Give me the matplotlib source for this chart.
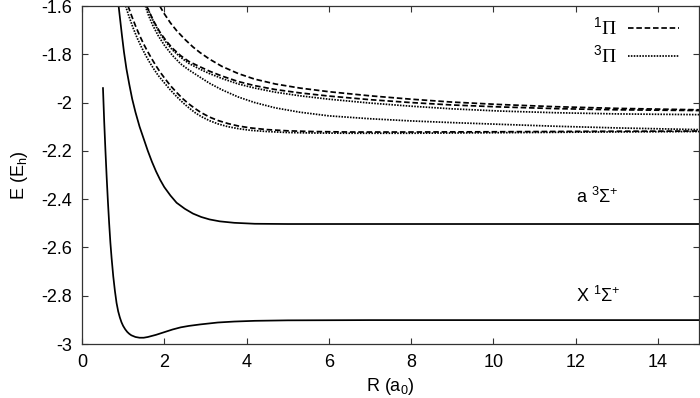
import matplotlib
matplotlib.use('Agg')
import matplotlib.pyplot as plt
from matplotlib.ticker import FuncFormatter

plt.rcParams['font.family'] = ['Liberation Sans', 'DejaVu Sans']
plt.rcParams['axes.unicode_minus'] = False
plt.rcParams['mathtext.fontset'] = 'custom'
plt.rcParams['mathtext.rm'] = 'Liberation Sans'
plt.rcParams['mathtext.it'] = 'Liberation Sans'
plt.rcParams['mathtext.sf'] = 'Liberation Sans'

# X 1Sigma+ ground state
x_R = [0.51, 0.54, 0.57, 0.60, 0.63, 0.66, 0.69, 0.72, 0.76, 0.80, 0.84, 0.88, 0.92, 0.96,
       1.00, 1.05, 1.10, 1.15, 1.20, 1.30, 1.40, 1.50, 1.60, 1.80, 2.00, 2.20, 2.40, 2.60,
       2.87, 3.30, 3.70, 4.20, 5.00, 7.00, 10.0, 15.0]
x_E = [-1.94, -2.08, -2.20, -2.31, -2.41, -2.50, -2.58, -2.645, -2.72, -2.78, -2.83, -2.865,
       -2.89, -2.91, -2.925, -2.939, -2.950, -2.958, -2.964, -2.971, -2.974, -2.974, -2.971,
       -2.962, -2.951, -2.940, -2.931, -2.925, -2.919, -2.911, -2.907, -2.904, -2.902, -2.901,
       -2.901, -2.901]

# a 3Sigma+ state
a_R = [0.89, 0.93, 0.97, 1.02, 1.08, 1.15, 1.22, 1.30, 1.40, 1.50, 1.60, 1.70, 1.80, 1.90,
       2.00, 2.15, 2.30, 2.50, 2.70, 2.90, 3.10, 3.35, 3.70, 4.20, 5.00, 7.00, 10.0, 15.0]
a_E = [-1.60, -1.66, -1.72, -1.79, -1.86, -1.925, -1.985, -2.04, -2.10, -2.15, -2.20, -2.245,
       -2.285, -2.32, -2.35, -2.385, -2.415, -2.44, -2.46, -2.474, -2.484, -2.492, -2.498,
       -2.502, -2.503, -2.503, -2.503, -2.503]

# 1Pi states (dashed)
d1_R = [1.89, 2.0, 2.15, 2.3, 2.5, 2.7, 2.87, 3.1, 3.4, 3.8, 4.2, 4.7, 5.3, 6.0, 7.0, 8.0,
        9.0, 10.15, 11.5, 13.0, 15.0]
d1_E = [-1.60, -1.632, -1.67, -1.702, -1.738, -1.77, -1.793, -1.82, -1.85, -1.88, -1.903,
        -1.923, -1.94, -1.955, -1.972, -1.986, -1.998, -2.008, -2.017, -2.024, -2.030]
d2_R = [1.57, 1.65, 1.75, 1.9, 2.05, 2.2, 2.4, 2.6, 2.87, 3.1, 3.4, 3.8, 4.2, 4.7, 5.3, 6.0,
        7.0, 8.0, 9.0, 10.15, 11.5, 13.0, 15.0]
d2_E = [-1.60, -1.63, -1.665, -1.71, -1.745, -1.775, -1.806, -1.83, -1.852, -1.87, -1.89,
        -1.913, -1.93, -1.946, -1.960, -1.973, -1.988, -2.000, -2.010, -2.018, -2.025, -2.03,
        -2.033]
d4_R = [1.12, 1.2, 1.3, 1.4, 1.5, 1.6, 1.7, 1.8, 1.9, 2.0, 2.15, 2.3, 2.45, 2.6, 2.75, 2.9,
        3.1, 3.3, 3.55, 3.8, 4.1, 4.5, 5.0, 5.6, 6.5, 8.0, 10.0, 12.5, 15.0]
d4_E = [-1.60, -1.638, -1.682, -1.722, -1.758, -1.79, -1.82, -1.848, -1.874, -1.897, -1.93,
        -1.958, -1.984, -2.006, -2.025, -2.042, -2.06, -2.074, -2.087, -2.097, -2.105, -2.112,
        -2.117, -2.12, -2.122, -2.122, -2.121, -2.119, -2.118]

# 3Pi states (dotted)
t2_R = [1.58, 1.66, 1.76, 1.9, 2.05, 2.2, 2.4, 2.6, 2.87, 3.1, 3.4, 3.8, 4.2, 4.7, 5.3, 6.0,
        7.0, 8.0, 9.0, 10.15, 11.5, 13.0, 15.0]
t2_E = [-1.60, -1.635, -1.672, -1.715, -1.752, -1.782, -1.813, -1.838, -1.862, -1.88, -1.90,
        -1.923, -1.94, -1.957, -1.972, -1.986, -2.002, -2.015, -2.026, -2.035, -2.042, -2.047,
        -2.050]
t3_R = [1.54, 1.62, 1.72, 1.85, 2.0, 2.2, 2.4, 2.6, 2.87, 3.1, 3.4, 3.8, 4.2, 4.7, 5.3, 6.0,
        7.0, 8.0, 9.0, 10.15, 11.5, 13.0, 15.0]
t3_E = [-1.60, -1.64, -1.68, -1.722, -1.762, -1.805, -1.84, -1.865, -1.895, -1.92, -1.947,
        -1.977, -2.0, -2.022, -2.04, -2.055, -2.067, -2.076, -2.083, -2.09, -2.098, -2.105,
        -2.112]
t4_R = [1.06, 1.14, 1.24, 1.34, 1.45, 1.55, 1.65, 1.75, 1.85, 2.0, 2.15, 2.3, 2.45, 2.6, 2.75,
        2.9, 3.1, 3.3, 3.55, 3.8, 4.1, 4.5, 5.0, 5.6, 6.5, 8.0, 10.0, 12.5, 15.0]
t4_E = [-1.60, -1.642, -1.69, -1.732, -1.772, -1.805, -1.835, -1.862, -1.887, -1.918, -1.948,
        -1.975, -2.0, -2.022, -2.042, -2.058, -2.075, -2.088, -2.10, -2.108, -2.115, -2.12,
        -2.124, -2.126, -2.127, -2.127, -2.125, -2.122, -2.12]

x_ticks = [0, 2, 4, 6, 8, 10, 12, 14]
y_ticks = [-3, -2.8, -2.6, -2.4, -2.2, -2, -1.8, -1.6]
legend_labels = [r'$^{1}$Π', r'$^{3}$Π']

fig = plt.figure(figsize=(7.0, 3.98), dpi=100)
ax = fig.add_axes([82 / 700, 1 - 344 / 398, 617 / 700, 338 / 398])

lw = 1.25
dash = (0, (3.2, 1.6))
dot = (0, (0.9, 0.75))
ax.plot(x_R, x_E, color='black', lw=lw)
ax.plot(a_R, a_E, color='black', lw=lw)
l1, = ax.plot(d1_R, d1_E, color='black', lw=lw, linestyle=dash)
ax.plot(d2_R, d2_E, color='black', lw=lw, linestyle=dash)
ax.plot(d4_R, d4_E, color='black', lw=lw, linestyle=dash)
l3, = ax.plot(t2_R, t2_E, color='black', lw=lw, linestyle=dot)
ax.plot(t3_R, t3_E, color='black', lw=lw, linestyle=dot)
ax.plot(t4_R, t4_E, color='black', lw=lw, linestyle=dot)

ax.set_xlim(0, 15)
ax.set_ylim(-3, -1.6)
ax.set_xticks(x_ticks)
ax.set_yticks(y_ticks)
ax.yaxis.set_major_formatter(FuncFormatter(lambda v, p: '%g' % round(v, 2)))
ax.tick_params(direction='in', length=4.5, width=0.8, top=True, right=True,
               labelsize=13, pad=7, color='#333333')
for s in ax.spines.values():
    s.set_linewidth(0.9)
    s.set_color('#333333')

ax.set_xlabel(r'R (a$_0$)', fontsize=13, labelpad=4)
ax.set_ylabel(r'E (E$_\mathrm{h}$)', fontsize=13, labelpad=8)

ax.text(12.0, -2.39, r'a $^{3}\Sigma^{+}$', fontsize=13, ha='left', va='center')
ax.text(12.0, -2.80, r'X $^{1}\Sigma^{+}$', fontsize=13, ha='left', va='center')

leg = ax.legend([l1, l3], legend_labels, loc='upper right',
                frameon=False, markerfirst=False,
                prop={'family': ['Liberation Serif', 'DejaVu Serif'], 'size': 14},
                handlelength=2.6, handletextpad=0.6, labelspacing=0.3, borderaxespad=0.15,
                bbox_to_anchor=(0.985, 1.0))

fig.savefig('out.png', dpi=100)
